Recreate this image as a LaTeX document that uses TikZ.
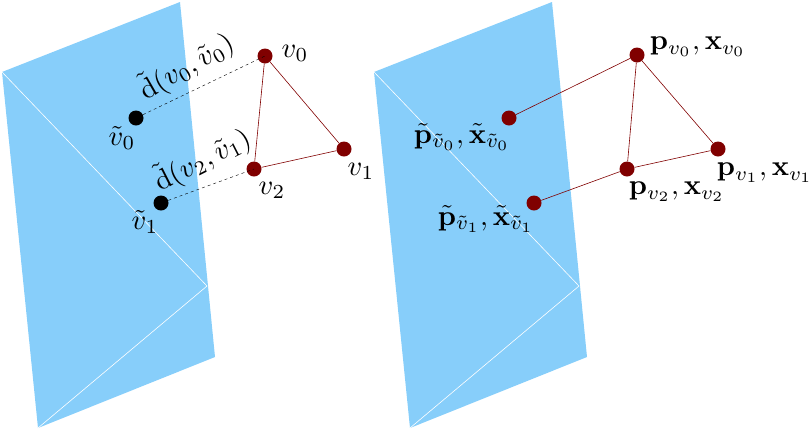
\documentclass[tikz,border=0pt]{standalone}
\usepackage{amsmath}
\begin{document}
\begin{tikzpicture}[x=1pt,y=-1pt,
  plane/.style={fill={rgb,255:red,135;green,206;blue,250},draw=none},
  crease/.style={draw=white,line width=0.6pt},
  rdot/.style={circle,fill={rgb,255:red,128;green,0;blue,0},inner sep=0pt,minimum size=15pt},
  bdot/.style={circle,fill=black,inner sep=0pt,minimum size=15pt},
  edge/.style={draw={rgb,255:red,128;green,0;blue,0},line width=0.6pt},
  lbl/.style={inner sep=0pt,scale=2.85}]
\useasboundingbox (0,0) rectangle (811,432);
\foreach \dx/\n in {0/L,372/R}{
  \fill[plane] (180+\dx,2) -- (2+\dx,72) -- (38+\dx,428) -- (215+\dx,357) -- cycle;
  \draw[crease] (2+\dx,72) -- (207+\dx,286) -- (38+\dx,428);
}
% left
\node[rdot] (a0) at (265,56) {};
\node[rdot] (a1) at (344,149) {};
\node[rdot] (a2) at (254,169) {};
\node[bdot] (t0) at (136,118) {};
\node[bdot] (t1) at (161,203) {};
\draw[edge] (a0) -- (a1) -- (a2) -- (a0);
\draw[dashed] (t0) -- (a0.center);
\draw[dashed] (t1) -- (a2.center);
\node[lbl,rotate=30] (d0) at (186,66) {$\tilde{\mathrm{d}}(v_0,\tilde{v}_0)$};
\node[lbl,rotate=27] (d1) at (202,159) {$\tilde{\mathrm{d}}(v_2,\tilde{v}_1)$};
\node[lbl] (la0) at (295,53) {$v_0$};
\node[lbl] (la1) at (361,171) {$v_1$};
\node[lbl] (la2) at (272,190) {$v_2$};
\node[lbl] (lt0) at (122,138) {$\tilde{v}_0$};
\node[lbl] (lt1) at (145,222) {$\tilde{v}_1$};
% right
\node[rdot] (b0) at (637,55) {};
\node[rdot] (b1) at (718,149) {};
\node[rdot] (b2) at (627,169) {};
\node[rdot] (p0) at (509,118) {};
\node[rdot] (p1) at (534,203) {};
\draw[edge] (b0) -- (b1) -- (b2) -- (b0);
\draw[edge] (p0) -- (b0);
\draw[edge] (p1) -- (b2);
\node[lbl] (lb0) at (698,47) {$\mathbf{p}_{v_0},\mathbf{x}_{v_0}$};
\node[lbl] (lb1) at (765,173) {$\mathbf{p}_{v_1},\mathbf{x}_{v_1}$};
\node[lbl] (lb2) at (677,192) {$\mathbf{p}_{v_2},\mathbf{x}_{v_2}$};
\node[lbl] (lp0) at (462,137) {$\tilde{\mathbf{p}}_{\tilde{v}_0},\tilde{\mathbf{x}}_{\tilde{v}_0}$};
\node[lbl] (lp1) at (486,219) {$\tilde{\mathbf{p}}_{\tilde{v}_1},\tilde{\mathbf{x}}_{\tilde{v}_1}$};
\end{tikzpicture}
\end{document}
